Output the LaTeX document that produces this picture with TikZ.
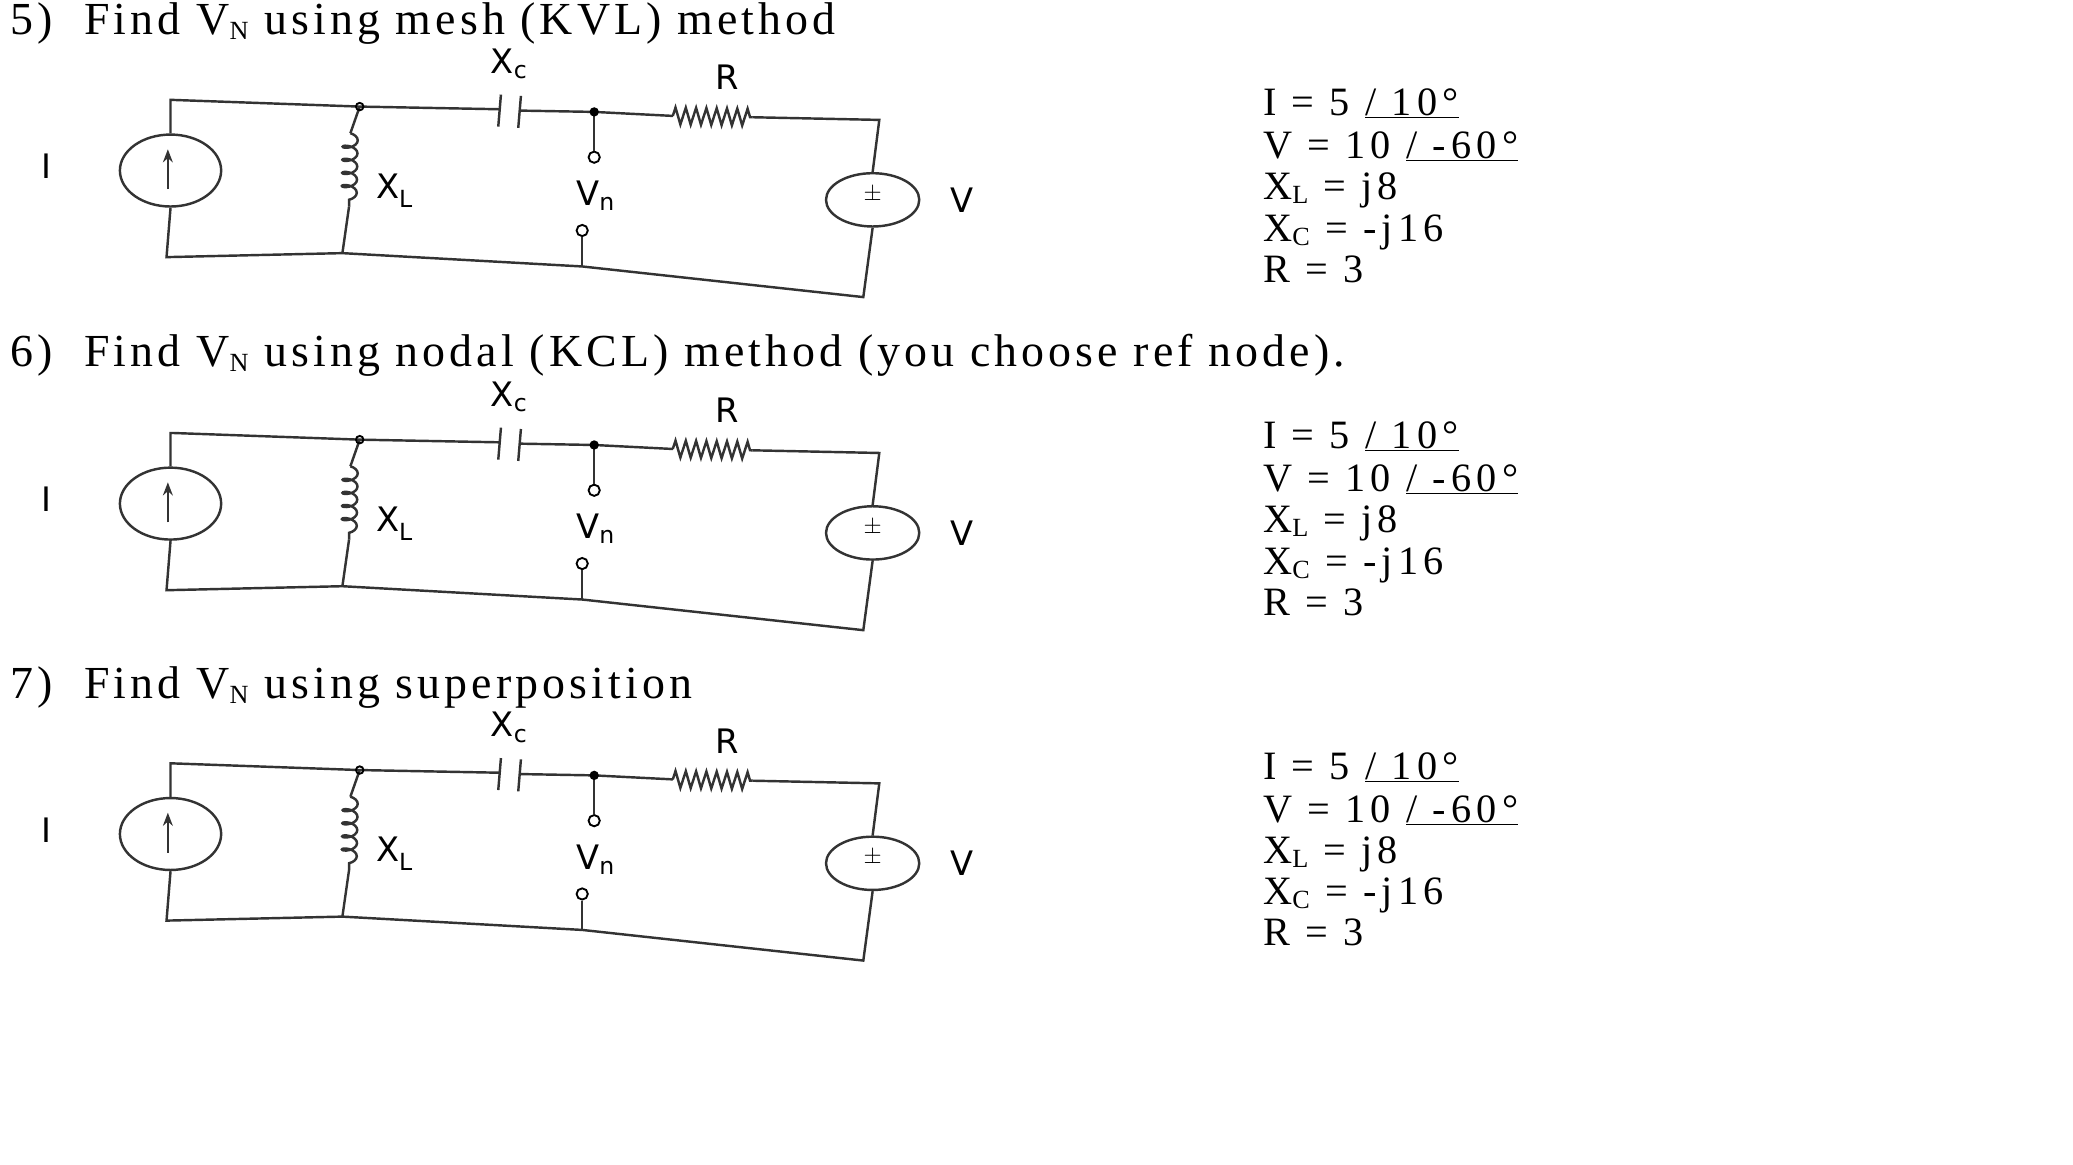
\documentclass[tikz,border=0pt]{standalone}
\usepackage{fontspec}
\setmainfont{Liberation Serif}[LetterSpace=9]
\newfontfamily\parfont{Liberation Serif}[LetterSpace=13]
\newfontfamily\hand{DejaVu Sans}
\usetikzlibrary{decorations.pathmorphing,arrows.meta,shapes.geometric}
\tikzset{w/.style={line width=2.6pt,black!80},
 lbl/.style={font=\hand\fontsize{36}{36}\selectfont,inner sep=0},
 ttl/.style={font=\fontsize{49}{49}\selectfont,anchor=west,inner sep=0},
 par/.style={font=\parfont\fontsize{43}{43}\selectfont,anchor=base west,inner sep=0},
 term/.style={circle,draw,line width=2pt,inner sep=0,minimum size=12pt}}
\newcommand{\sbs}[1]{\raisebox{-0.1em}{\fontsize{28}{28}\selectfont #1}}
\newcommand{\mynet}[1]{%
\begin{scope}[yshift=#1]
\node[draw,ellipse,w,minimum width=76*0.05cm,minimum height=54*0.05cm] (is) at (128,128) {};
\draw[w,-{Stealth[length=14pt]}] (126,142) -- (126,112);
\node[lbl] (il) at (35,125) {I};
\coordinate (a1) at (130,75); \coordinate (n1) at (270,80);
\coordinate (c1) at (375,82); \coordinate (c2) at (390,83);
\coordinate (n2) at (446,84); \coordinate (r1) at (505,87); \coordinate (r2) at (565,88);
\coordinate (a2) at (660,90);
\node[draw,ellipse,w,minimum width=70*0.05cm,minimum height=40*0.05cm] (vs) at (655,150) {};
\node[lbl] at (655,146) {$\pm$};
\coordinate (b4) at (648,223); \coordinate (b3) at (437,200);
\coordinate (b2) at (257,190); \coordinate (b1) at (125,193);
\draw[w] (is.north) |- (a1) -- (n1) -- (c1);
\draw[w] (c1)++(1,-11) -- ++(-2,24); \draw[w] (c2)++(1,-11) -- ++(-2,24);
\draw[w] (c2) -- (n2) -- (r1);
\draw[w,decorate,decoration={zigzag,segment length=11pt,amplitude=9pt}] (r1) -- (r2);
\draw[w] (r2) -- (a2) -- (vs.north);
\draw[w] (vs.south) -- (b4) -- (b3) -- (b2) -- (b1) -- (is.south);
\draw[w] (n1) -- (263,100);
\draw[w,decorate,decoration={coil,aspect=0.5,segment length=14pt,amplitude=8pt}] (263,100) -- (262,155);
\draw[w] (262,155) -- (b2);
\node[lbl] (xl) at (296,143) {X\textsubscript{L}};
\node[term] (t1) at (446,118) {}; \draw[w] (n2) -- (t1);
\node[term] (t2) at (437,173) {}; \draw[w] (t2) -- (b3);
\fill (n2) circle (5pt); \node[term,minimum size=8pt] at (n1) {};
\node[lbl] (vn) at (447,147) {V\textsubscript{n}};
\node[lbl] (xc) at (382,48) {X\textsubscript{c}};
\node[lbl] (rl) at (546,58) {R};
\node[lbl] (vl) at (722,150) {V};
\node[par] (p1) at (948,87) {I = 5 \underline{/ 10°}};
\node[par] (p2) at (948,119) {V = 10 \underline{/ -60°}};
\node[par] (p3) at (948,150) {X\sbs{L} = j8};
\node[par] (p4) at (948,181) {X\sbs{C} = -j16};
\node[par] (p5) at (948,212) {R = 3};
\end{scope}}
\begin{document}
\begin{tikzpicture}[x=0.05cm,y=-0.05cm]
\useasboundingbox[fill=white] (0,0) rectangle (1556,874);
\node[ttl] (h1) at (8,18) {5)\ \ Find V\sbs{N} using mesh (KVL) method};
\node[ttl] (h2) at (8,267) {6)\ \ Find V\sbs{N} using nodal (KCL) method (you choose ref node).};
\node[ttl] (h3) at (8,516) {7)\ \ Find V\sbs{N} using superposition};
\mynet{0}
\mynet{-250*0.05cm}
\mynet{-498*0.05cm}
\end{tikzpicture}
\end{document}
